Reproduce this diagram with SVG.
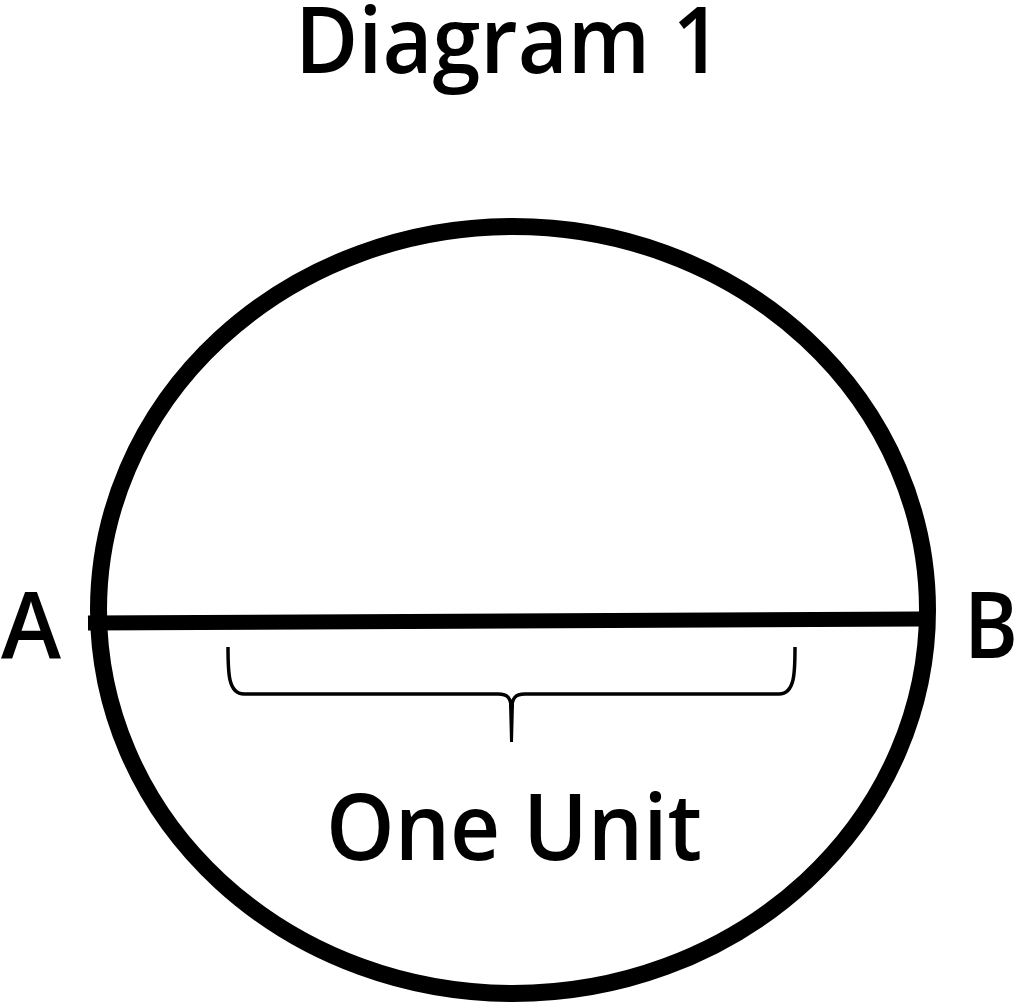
<svg xmlns="http://www.w3.org/2000/svg" width="1024" height="1006" viewBox="0 0 1024 1006">
<style>
  .lbl { font-family: "Open Sans", "Liberation Sans", sans-serif; font-size: 92px; font-weight: 600; fill: #000; }
  .thick { fill: none; stroke: #000; }
</style>
<rect width="1024" height="1006" fill="#fff"/>
<g id="title">
  <text class="lbl" x="295" y="73" textLength="427" lengthAdjust="spacingAndGlyphs">Diagram 1</text>
</g>
<g id="circle">
  <ellipse class="thick" cx="513" cy="610" rx="414.5" ry="383.5" stroke-width="17"/>
</g>
<g id="connectors">
  <line id="diameter" x1="88" y1="623" x2="920" y2="619" stroke="#000" stroke-width="15"/>
  <path id="brace" fill="none" stroke="#000" stroke-width="3.5" d="M228,647 C228,672 228,694 244,694 L498,694 C508,694 511,698 511.5,710 M795,647 C795,672 795,694 779,694 L525,694 C515,694 512,698 511.5,710"/>
  <path id="brace-stem" fill="#000" d="M509,704 L510,742 L513,742 L514,704 Z"/>
</g>
<g id="point-a">
  <text class="lbl" x="1" y="658" textLength="60" lengthAdjust="spacingAndGlyphs">A</text>
</g>
<g id="point-b">
  <text class="lbl" x="964" y="658" textLength="54" lengthAdjust="spacingAndGlyphs">B</text>
</g>
<g id="unit-label">
  <text class="lbl" x="326" y="860" textLength="376" lengthAdjust="spacingAndGlyphs">One Unit</text>
</g>
</svg>
